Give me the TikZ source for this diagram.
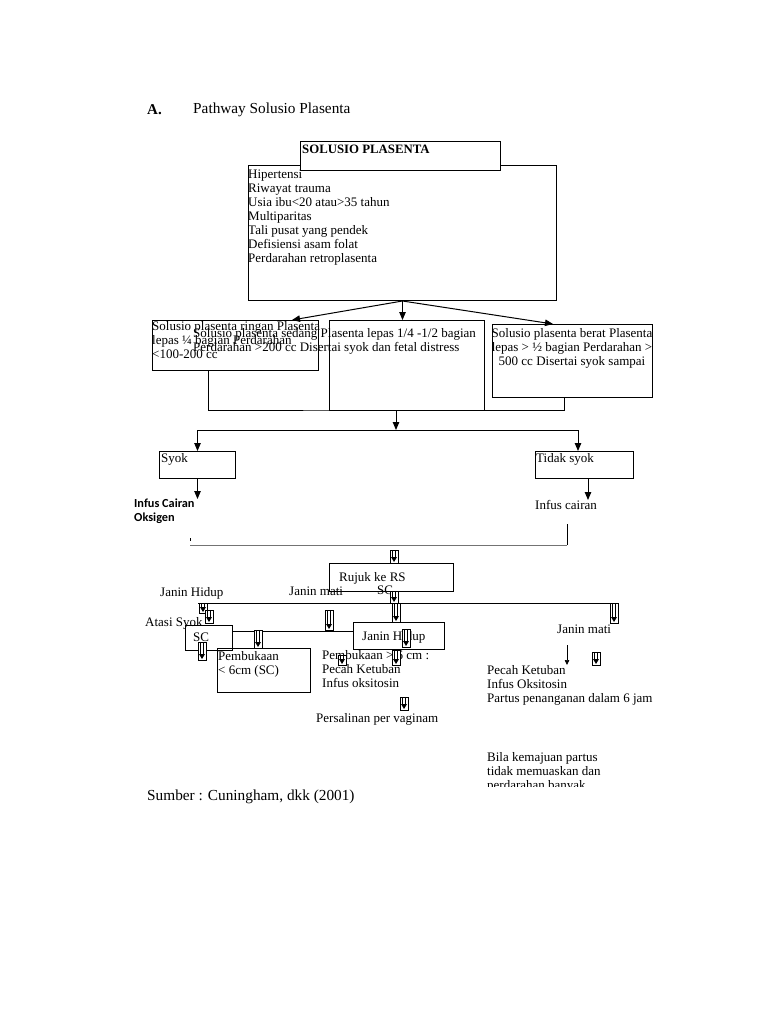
\documentclass[tikz,border=0pt]{standalone}
\usepackage{fontspec}
\setmainfont{Liberation Serif}
\newfontfamily\calibri{Carlito}
\usetikzlibrary{arrows.meta,positioning}

\tikzset{
  kotak/.style={draw, line width=1pt, inner sep=0pt, anchor=north west},
  teks/.style={anchor=north west, inner sep=0pt, align=left, font=\fontsize{13}{14}\selectfont},
  panah/.style={-{Triangle[length=8pt,width=6.5pt]}, line width=1pt},
}

\begin{document}
\begin{tikzpicture}[x=1pt,y=-1pt]
\path[use as bounding box, fill=white] (0,0) rectangle (768,1024);

% Judul halaman
\node[anchor=west, inner sep=0pt, font=\fontsize{15}{17}\selectfont\bfseries] (hurufA) at (147,110) {A.};
\node[anchor=west, inner sep=0pt, font=\fontsize{15.3}{17}\selectfont] (judul) at (193,110) {Pathway Solusio Plasenta};

% Kotak penyebab dan kotak judul di atasnya
\node[kotak, minimum width=308pt, minimum height=135pt] (sebab) at (248,165) {};
\node[kotak, fill=white, minimum width=200pt, minimum height=29pt] (solusio) at (300,141) {};
\node[anchor=west, inner sep=0pt, font=\fontsize{12.8}{14}\selectfont\bfseries] (solusioteks) at (302,149) {SOLUSIO PLASENTA};
\node[teks] (daftar) at (248,170) {Hipertensi\\Riwayat trauma\\Usia ibu<20 atau>35 tahun\\Multiparitas\\Tali pusat yang pendek\\Defisiensi asam folat\\Perdarahan retroplasenta};

% Tiga jenis solusio
\node[kotak, minimum width=166pt, minimum height=50pt] (ringan) at (152,320) {};
\node[kotak, minimum width=155pt, minimum height=90pt] (sedang) at (329,320) {};
\node[kotak, minimum width=160pt, minimum height=73pt] (berat) at (492,324) {};
\node[teks] (ringanteks) at (152,321) {Solusio plasenta ringan Plasenta\\lepas ¼ bagian Perdarahan\\<100-200 cc};
\node[teks] (sedangteks) at (193,328) {Solusio plasenta sedang Plasenta lepas 1/4 -1/2 bagian\\Perdarahan >200 cc Disertai syok dan fetal distress};
\node[teks, align=center, anchor=north] (beratteks) at (572,328) {Solusio plasenta berat Plasenta\\lepas > ½ bagian Perdarahan >\\500 cc Disertai syok sampai};

\draw[panah] (sebab.south) -- ([xshift=140pt]ringan.north west);
\draw[panah] (sebab.south) -- (sebab.south |- sedang.north);
\draw[panah] (sebab.south) -- ([xshift=61pt]berat.north west);

% Gabung lalu bercabang
\coordinate (gabung) at (396,410);
\coordinate (bagi) at (396,430);
\draw[line width=1pt] ([xshift=56pt]ringan.south west) |- (gabung) -| ([xshift=72pt]berat.south west);
\draw[panah] (gabung) -- (bagi);

\node[kotak, minimum width=76pt, minimum height=27pt] (syok) at (159,451) {};
\node[kotak, minimum width=98pt, minimum height=27pt] (tidak) at (535,451) {};
\node[teks] (syokteks) at (161,453) {Syok};
\node[teks] (tidakteks) at (536,453) {Tidak syok};
\draw[panah] (bagi) -| (syok.north);
\draw[panah] (bagi) -| ([xshift=43pt]tidak.north west);

\node[anchor=north west, inner sep=0pt, align=left, font=\calibri\bfseries\fontsize{12.3}{14}\selectfont] (infuskiri) at (134,499) {Infus Cairan\\Oksigen};
\node[teks] (infuskanan) at (535,500) {Infus cairan};
\coordinate (tidakbawah) at (588,478);
\draw[panah] (syok.south) -- (syok.south |- infuskiri.north);
\draw[panah] (tidakbawah) -- (tidakbawah |- infuskanan.north);

% Garis penyatu ke rujukan
\coordinate (tepikiri) at (190,545);
\coordinate (tepikanan) at (567,545);
\coordinate (tepiatas) at (567,524);
\draw[black!55, line width=1pt] (tepikiri) -- (tepikanan);
\draw[line width=1pt] (tepikanan) -- (tepiatas);
\draw[line width=0.7pt] (190,538) -- (190,541);

% Rujuk ke RS
\node[kotak, minimum width=124pt, minimum height=28pt] (rujuk) at (329,563) {};
\node[teks] (rujukteks) at (339,572) {Rujuk ke RS};
\node[teks] (scatas) at (377,586) {SC};

\coordinate (cabangkiri) at (198,603);
\coordinate (cabangkanan) at (617,603);
\draw[line width=1pt] (cabangkiri) -- (cabangkanan);

\node[teks] (hidupkiri) at (160,587) {Janin Hidup};
\node[teks] (matitengah) at (289,587) {Janin mati};
\node[teks] (atasi) at (145,617) {Atasi Syok};

% Kotak bawah
\node[kotak, minimum width=47pt, minimum height=25pt] (sc) at (185,625) {};
\node[teks] (scteks) at (193,633) {SC};
\node[kotak, minimum width=91pt, minimum height=27pt] (hidup) at (353,622) {};
\node[teks] (hidupteks) at (362,631) {Janin Hidup};
\node[kotak, minimum width=93pt, minimum height=44pt] (buka) at (217,648) {};
\node[teks] (bukateks) at (218,651) {Pembukaan\\< 6cm (SC)};
\coordinate (sckanan) at (232,631);
\draw[line width=1pt] (sckanan) -- (sckanan -| hidup.west);

\node[teks] (bukalebar) at (322,650) {Pembukaan > 6 cm :\\Pecah Ketuban\\Infus oksitosin};
\node[teks] (persalinan) at (316,713) {Persalinan per vaginam};

\node[teks] (matikanan) at (557,625) {Janin mati};
\node[teks] (tindakan) at (487,665) {Pecah Ketuban\\Infus Oksitosin\\Partus penanganan dalam 6 jam};
\coordinate (matipanah) at (567,645);
\draw[-{Triangle[length=5pt,width=4.5pt]}, line width=0.7pt] (matipanah) -- (matipanah |- tindakan.north);

\begin{scope}
\clip (480,740) rectangle (670,786);
\node[teks] (bila) at (487,752) {Bila kemajuan partus\\tidak memuaskan dan\\perdarahan banyak};
\end{scope}

\node[anchor=west, inner sep=0pt, font=\fontsize{15.3}{17}\selectfont] (sumber) at (147,797) {Sumber : Cuningham, dkk (2001)};

% Panah blok kecil
\foreach \x/\y/\h in {394/550/13, 394/591/12, 396/603/19, 203/603/10, 209/610/13, 202/642/18, 258/630/18, 329/610/20, 406/629/18, 342/655/10, 396/650/15, 404/697/13, 614/603/20, 596/652/13}
{
  \draw[line width=0.7pt, fill=white] (\x-4,\y) rectangle (\x+4,\y+\h);
  \draw[line width=0.5pt] (\x-1.5,\y) -- (\x-1.5,\y+\h-5) (\x+1.5,\y) -- (\x+1.5,\y+\h-5);
  \fill (\x-3,\y+\h-6) -- (\x+3,\y+\h-6) -- (\x,\y+\h-1) -- cycle;
}
\end{tikzpicture}
\end{document}
